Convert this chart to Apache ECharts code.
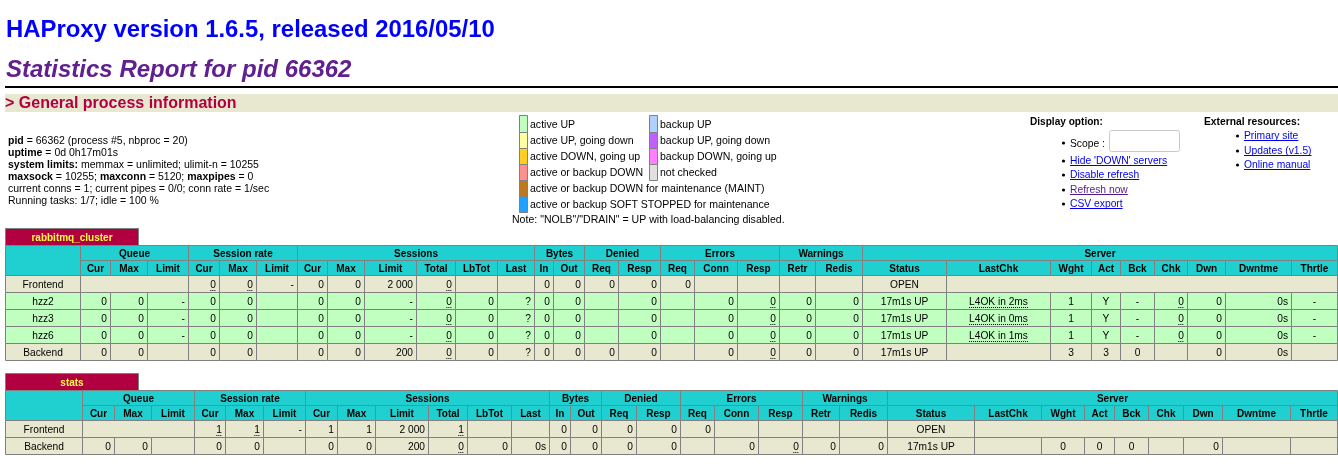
<!DOCTYPE html>
<html>
<head>
<meta charset="utf-8">
<title>HAProxy statistics</title>
<script src="https://cdn.jsdelivr.net/npm/echarts@6/dist/echarts.min.js"></script>
<style>
  html, body { margin: 0; padding: 0; background: #fff; }
  #main { width: 1338px; height: 468px; }
</style>
</head>
<body>
<div id="main"></div>
<script>
// page texts
const pageTitle = 'HAProxy version 1.6.5, released 2016/05/10';
const pageSubtitle = 'Statistics Report for pid 66362';
const sectionTitle = '> General process information';
const infoLines = [
  '{b|pid} = 66362 (process #5, nbproc = 20)',
  '{b|uptime} = 0d 0h17m01s',
  '{b|system limits:} memmax = unlimited; ulimit-n = 10255',
  '{b|maxsock} = 10255; {b|maxconn} = 5120; {b|maxpipes} = 0',
  'current conns = 1; current pipes = 0/0; conn rate = 1/sec',
  'Running tasks: 1/7; idle = 100 %'
];

// status legend
const legendActive = ['active UP', 'active UP, going down', 'active DOWN, going up', 'active or backup DOWN',
  'active or backup DOWN for maintenance (MAINT)', 'active or backup SOFT STOPPED for maintenance'];
const legendActiveColors = ['#c0ffc0', '#ffffa0', '#ffd020', '#ff9090', '#c07820', '#20a0ff'];
const legendBackup = ['backup UP', 'backup UP, going down', 'backup DOWN, going up', 'not checked'];
const legendBackupColors = ['#b0d0ff', '#c060ff', '#ff80ff', '#e0e0e0'];
const legendNote = 'Note: "NOLB"/"DRAIN" = UP with load-balancing disabled.';

// links
const displayLinks = ["Hide 'DOWN' servers", 'Disable refresh', 'Refresh now', 'CSV export'];
const externalLinks = ['Primary site', 'Updates (v1.5)', 'Online manual'];

// table headers
const groupHeads = ['Queue', 'Session rate', 'Sessions', 'Bytes', 'Denied', 'Errors', 'Warnings', 'Server'];
const groupSizes = [3, 3, 6, 2, 2, 3, 2, 9];
const columnHeads = ['Cur', 'Max', 'Limit', 'Cur', 'Max', 'Limit', 'Cur', 'Max', 'Limit', 'Total', 'LbTot', 'Last',
  'In', 'Out', 'Req', 'Resp', 'Req', 'Conn', 'Resp', 'Retr', 'Redis',
  'Status', 'LastChk', 'Wght', 'Act', 'Bck', 'Chk', 'Dwn', 'Dwntme', 'Thrtle'];

// table values, one list per row
const rabbitFrontend = ['Frontend', '', '', '', '0', '0', '-', '0', '0', '2 000', '0', '', '', '0', '0', '0', '0', '0', '', '', '', '', 'OPEN', '', '', '', '', '', '', '', ''];
const rabbitHzz2 = ['hzz2', '0', '0', '-', '0', '0', '', '0', '0', '-', '0', '0', '?', '0', '0', '', '0', '', '0', '0', '0', '0', '17m1s UP', 'L4OK in 2ms', '1', 'Y', '-', '0', '0', '0s', '-'];
const rabbitHzz3 = ['hzz3', '0', '0', '-', '0', '0', '', '0', '0', '-', '0', '0', '?', '0', '0', '', '0', '', '0', '0', '0', '0', '17m1s UP', 'L4OK in 0ms', '1', 'Y', '-', '0', '0', '0s', '-'];
const rabbitHzz6 = ['hzz6', '0', '0', '-', '0', '0', '', '0', '0', '-', '0', '0', '?', '0', '0', '', '0', '', '0', '0', '0', '0', '17m1s UP', 'L4OK in 1ms', '1', 'Y', '-', '0', '0', '0s', '-'];
const rabbitBackend = ['Backend', '0', '0', '', '0', '0', '', '0', '0', '200', '0', '0', '?', '0', '0', '0', '0', '', '0', '0', '0', '0', '17m1s UP', '', '3', '3', '0', '', '0', '0s', ''];
const statsFrontend = ['Frontend', '', '', '', '1', '1', '-', '1', '1', '2 000', '1', '', '', '0', '0', '0', '0', '0', '', '', '', '', 'OPEN', '', '', '', '', '', '', '', ''];
const statsBackend = ['Backend', '0', '0', '', '0', '0', '', '0', '0', '200', '0', '0', '0s', '0', '0', '0', '0', '', '0', '0', '0', '0', '17m1s UP', '', '0', '0', '0', '', '0', '', ''];

// layout: axis positions of the column and row edges
const rabbitColumnEdges = [5, 80, 110, 147, 188, 219, 256, 297, 327, 364, 416, 455, 497, 534, 553, 584, 618, 660, 694, 737, 779, 815, 862, 946, 1050, 1091, 1120, 1154, 1187, 1225, 1291, 1337];
const rabbitRowEdges = [245, 260, 275, 292, 309, 326, 343, 360];
const statsColumnEdges = [5, 82, 114, 151, 194, 225, 263, 305, 337, 375, 428, 467, 511, 549, 570, 601, 636, 680, 714, 758, 802, 839, 887, 974, 1041, 1084, 1114, 1148, 1183, 1222, 1290, 1337];
const statsRowEdges = [390, 405, 420, 437, 454];
const swatchRowEdges = [115, 132, 148, 164, 180, 196, 212];

const FONT = '"Liberation Sans", Arial, sans-serif';
const LINE = '#808080';
const PANEL = '#e8e8d0';
const HEAD = '#20d0d0';
const SERVER = '#c0ffc0';
const centered = [0, 22, 23, 24, 25, 26, 30];
const hinted = [10, 19, 23, 27];

const cells = [];

function addCell(x0, y0, x1, y1, fill, extra) {
  cells.push(Object.assign({ box: [x0, y0, x1, y1], fill: fill }, extra));
}

function addTable(name, tabTop, xs, ys, rows) {
  addCell(xs[0], tabTop, 138, ys[0], '#b00040', { text: name, bold: true, color: '#ffff40', align: 'center' });
  // header rows
  addCell(xs[0], ys[0], xs[1], ys[2], HEAD);
  let col = 1;
  groupHeads.forEach((head, i) => {
    addCell(xs[col], ys[0], xs[col + groupSizes[i]], ys[1], HEAD, { text: head, bold: true, align: 'center' });
    col += groupSizes[i];
  });
  columnHeads.forEach((head, i) => {
    addCell(xs[i + 1], ys[1], xs[i + 2], ys[2], HEAD, { text: head, bold: true, align: 'center' });
  });
  // value rows
  rows.forEach((row, r) => {
    const top = ys[r + 2], bottom = ys[r + 3];
    const isFrontend = row[0] === 'Frontend';
    const fill = row[0].startsWith('hzz') ? SERVER : PANEL;
    row.forEach((text, c) => {
      if (isFrontend && ((c >= 2 && c <= 3) || c >= 24)) return;
      let right = xs[c + 1];
      if (isFrontend && c === 1) right = xs[4];
      if (isFrontend && c === 23) right = xs[31];
      addCell(xs[c], top, right, bottom, fill, {
        text: text,
        align: centered.includes(c) ? 'center' : 'right',
        dotted: text !== '' && (hinted.includes(c) || (isFrontend && (c === 4 || c === 5)))
      });
    });
  });
}

addTable('rabbitmq_cluster', 228, rabbitColumnEdges, rabbitRowEdges,
  [rabbitFrontend, rabbitHzz2, rabbitHzz3, rabbitHzz6, rabbitBackend]);
addTable('stats', 373, statsColumnEdges, statsRowEdges, [statsFrontend, statsBackend]);

// legend swatches
legendActiveColors.forEach((color, i) => addCell(519, swatchRowEdges[i], 527, swatchRowEdges[i + 1], color));
legendBackupColors.forEach((color, i) => addCell(649, swatchRowEdges[i], 657, swatchRowEdges[i + 1], color));

const measure = document.createElement('canvas').getContext('2d');
function textWidth(text, font) {
  measure.font = font;
  return measure.measureText(text).width;
}

function renderCell(params, api) {
  const c = cells[params.dataIndex];
  const p0 = api.coord([api.value(0), api.value(1)]);
  const p1 = api.coord([api.value(2), api.value(3)]);
  const children = [{
    type: 'rect',
    shape: { x: p0[0] + 0.5, y: p0[1] + 0.5, width: p1[0] - p0[0], height: p1[1] - p0[1] },
    style: { fill: c.fill, stroke: LINE, lineWidth: 1 }
  }];
  if (c.text) {
    const weight = c.bold ? 'bold' : 'normal';
    const size = c.bold ? 10 : 10.2;
    const x = c.align === 'center' ? (p0[0] + p1[0]) / 2 + 0.5 : p1[0] - 3;
    const y = Math.round((p0[1] + p1[1]) / 2) + 1;
    children.push({
      type: 'text',
      style: {
        text: c.text, x: x, y: y, fill: c.color || '#000',
        align: c.align, verticalAlign: 'middle',
        fontFamily: FONT, fontSize: size, fontWeight: weight
      }
    });
    if (c.dotted) {
      const w = textWidth(c.text, `${weight} ${size}px ${FONT}`);
      const left = c.align === 'center' ? x - w / 2 : x - w;
      children.push({
        type: 'line',
        shape: { x1: left, y1: y + 5.5, x2: left + w, y2: y + 5.5 },
        style: { stroke: '#000', lineWidth: 1, lineDash: [1, 1] }
      });
    }
  }
  return { type: 'group', children: children };
}

function pageText(text, x, y, font, color, rich) {
  return {
    type: 'text', silent: true,
    style: { text: text, x: x, y: y, font: font, fill: color || '#000', verticalAlign: 'middle', rich: rich }
  };
}

function linkItems(labels, x, ys, bulletX) {
  const items = [];
  labels.forEach((label, i) => {
    const color = label === 'Refresh now' ? '#551a8b' : '#0000ee';
    const font = `10.3px ${FONT}`;
    items.push({ type: 'circle', shape: { cx: bulletX, cy: ys[i] - 0.5, r: 1.6 }, style: { fill: '#000' } });
    items.push(pageText(label, x, ys[i], font, color));
    items.push({
      type: 'rect',
      shape: { x: x, y: ys[i] + 3.5, width: textWidth(label, font), height: 1 },
      style: { fill: color }
    });
  });
  return items;
}

const infoFont = `10.5px ${FONT}`;
const legendFont = `10.55px ${FONT}`;
const boldRich = { b: { fontFamily: FONT, fontSize: 10.5, fontWeight: 'bold', fill: '#000' } };
const graphics = [
  pageText(pageTitle, 6, 30, `bold 23.9px ${FONT}`, '#0000ff'),
  pageText(pageSubtitle, 6, 70, `italic bold 24px ${FONT}`, '#602090'),
  { type: 'rect', shape: { x: 5, y: 86, width: 1333, height: 2 }, style: { fill: '#000' } },
  { type: 'rect', shape: { x: 5, y: 94, width: 1333, height: 18 }, style: { fill: PANEL } },
  pageText(sectionTitle, 5, 103.5, `bold 16px ${FONT}`, '#b00040')
];
infoLines.forEach((line, i) => {
  graphics.push(pageText(line, 8, 141.5 + i * 12, infoFont, '#000', boldRich));
});
legendActive.forEach((label, i) => graphics.push(pageText(label, 530, 125.5 + i * 16, legendFont)));
legendBackup.forEach((label, i) => graphics.push(pageText(label, 660, 125.5 + i * 16, legendFont)));
graphics.push(pageText(legendNote, 512, 220.5, legendFont));

graphics.push(pageText('Display option:', 1030, 122.5, `bold 10.1px ${FONT}`));
graphics.push({ type: 'circle', shape: { cx: 1063.5, cy: 143, r: 1.6 }, style: { fill: '#000' } });
graphics.push(pageText('Scope :', 1070, 144, `10.3px ${FONT}`));
graphics.push({
  type: 'rect',
  shape: { x: 1109.5, y: 130.5, width: 70, height: 21, r: 2 },
  style: { fill: '#fff', stroke: '#c8c8c8', lineWidth: 1 }
});
graphics.push(...linkItems(displayLinks, 1070, [161.5, 175.5, 190.5, 204.5], 1063.5));
graphics.push(pageText('External resources:', 1204, 122.5, `bold 10.3px ${FONT}`));
graphics.push(...linkItems(externalLinks, 1244, [136.5, 151.5, 165.5], 1237.5));

const chart = echarts.init(document.getElementById('main'));
chart.setOption({
  animation: false,
  grid: { left: 0, right: 0, top: 0, bottom: 0 },
  xAxis: { type: 'value', min: 0, max: 1338, show: false },
  yAxis: { type: 'value', min: 0, max: 468, inverse: true, show: false },
  graphic: graphics,
  series: [{
    type: 'custom',
    silent: true,
    clip: false,
    renderItem: renderCell,
    data: cells.map((c) => c.box)
  }]
});
</script>
</body>
</html>
